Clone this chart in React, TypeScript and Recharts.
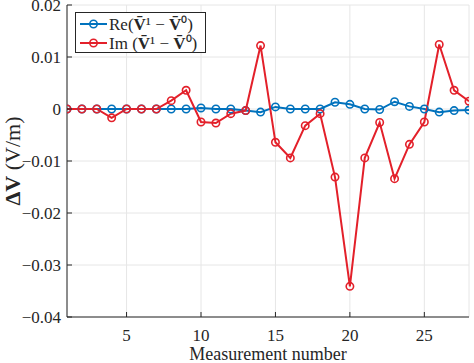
import React from 'react';
import { LineChart, Line, XAxis, YAxis, CartesianGrid } from 'recharts';

const measurements = [1, 2, 3, 4, 5, 6, 7, 8, 9, 10, 11, 12, 13, 14, 15, 16, 17, 18, 19, 20, 21, 22, 23, 24, 25, 26, 27, 28];
const reValues = [0, 0, 0, 0, 0, 0, 0, 0, 0, 0.0002, 0, 0, -0.0003, -0.0006, 0.0004, 0, 0, 0, 0.0013, 0.0009, 0, -0.0001, 0.0014, 0.0005, 0, -0.0006, -0.0003, -0.0002];
const imValues = [0, 0, 0, -0.0017, 0, 0, 0, 0.0016, 0.0036, -0.0025, -0.0027, -0.0009, -0.0003, 0.0122, -0.0064, -0.0094, -0.0032, -0.0009, -0.0131, -0.0341, -0.0094, -0.0026, -0.0134, -0.0068, -0.0025, 0.0124, 0.0036, 0.0015];
const xTicks = [5, 10, 15, 20, 25];
const yTicks = [-0.04, -0.03, -0.02, -0.01, 0, 0.01, 0.02];
const seriesPrefixes = ['Re', 'Im '];
const seriesColors = ['#0072BD', '#E3202A'];

const data = measurements.map((m, i) => ({ m, re: reValues[i], im: imValues[i] }));

const AXIS = '#262626';
const FONT = '"Liberation Serif", "Times New Roman", serif';

const fmt = (v: number) => (v === 0 ? '0' : v.toFixed(2).replace('-', '\u2212'));

const XTickBottom = (props: any) => {
  const { x, y, payload } = props;
  return (
    <g>
      <line x1={x} x2={x} y1={y} y2={y - 5} stroke={AXIS} strokeWidth={1} />
      <text x={x} y={y + 24} textAnchor="middle" fontSize={17} fontFamily={FONT} fill={AXIS}>
        {payload.value}
      </text>
    </g>
  );
};
const XTickTop = (props: any) => {
  const { x, y } = props;
  return <line x1={x} x2={x} y1={y} y2={y + 5} stroke={AXIS} strokeWidth={1} />;
};
const YTickLeft = (props: any) => {
  const { x, y, payload } = props;
  return (
    <g>
      <line x1={x} x2={x + 5} y1={y} y2={y} stroke={AXIS} strokeWidth={1} />
      <text x={x - 6} y={y + 6} textAnchor="end" fontSize={17} fontFamily={FONT} fill={AXIS}>
        {fmt(payload.value)}
      </text>
    </g>
  );
};
const YTickRight = (props: any) => {
  const { x, y } = props;
  return <line x1={x} x2={x - 5} y1={y} y2={y} stroke={AXIS} strokeWidth={1} />;
};

const YLabel = (props: any) => {
  const vb = props.viewBox || { x: 0, y: 5, width: 67, height: 312 };
  const cx = 12;
  const cy = vb.y + vb.height / 2;
  return (
    <text
      x={cx}
      y={cy}
      transform={`rotate(-90 ${cx} ${cy})`}
      textAnchor="middle"
      dominantBaseline="central"
      fontSize={22}
      fontFamily={FONT}
      fill={AXIS}
    >
      <tspan fontWeight="bold">{'\u0394V'}</tspan>
      <tspan>{' (V/m)'}</tspan>
    </text>
  );
};

const XLabel = (props: any) => {
  const vb = props.viewBox || { x: 67, y: 317, width: 402, height: 46 };
  return (
    <text x={vb.x + vb.width / 2} y={vb.y + 43} textAnchor="middle" fontSize={18} fontFamily={FONT} fill={AXIS}>
      Measurement number
    </text>
  );
};

const MathName = ({ prefix }: { prefix: string }) => (
  <span>
    {prefix}(<b>V\u0304</b>¹ − <b>V\u0304</b>⁰)
  </span>
);

const LegendBox = () => (
  <div
    style={{
      position: 'absolute',
      left: 75,
      top: 12,
      width: 131,
      height: 41,
      boxSizing: 'border-box',
      border: '1px solid #262626',
      background: '#fff',
      fontFamily: FONT,
      fontSize: 17,
      color: AXIS,
      paddingTop: 1,
    }}
  >
    {seriesPrefixes.map((p, i) => (
      <div key={i} style={{ display: 'flex', alignItems: 'center', height: 19, whiteSpace: 'nowrap' }}>
        <svg width={32} height={19} style={{ flex: 'none' }}>
          <line x1={4} x2={31} y1={10} y2={10} stroke={seriesColors[i]} strokeWidth={2} />
          <circle cx={17.5} cy={10} r={3.7} fill="none" stroke={seriesColors[i]} strokeWidth={1.6} />
        </svg>
        <span style={{ marginLeft: 1 }}>
          {p}(<b>{'V\u0304'}</b>{'\u00b9 \u2212 '}<b>{'V\u0304'}</b>{'\u2070)'}
        </span>
      </div>
    ))}
  </div>
);

export default function App() {
  return (
    <div style={{ position: 'absolute', left: 0, top: 0, width: 474, height: 363, background: '#fff' }}>
      <LineChart width={474} height={363} data={data} margin={{ top: 5, right: 5, bottom: 0, left: 0 }}>
        <CartesianGrid stroke="#e6e6e6" strokeWidth={1} />
        <XAxis
          dataKey="m"
          type="number"
          domain={[1, 28]}
          ticks={xTicks}
          height={46}
          tickSize={0}
          tickMargin={0}
          tickLine={false}
          axisLine={{ stroke: AXIS }}
          tick={<XTickBottom />}
          interval={0}
          allowDataOverflow
          label={<XLabel />}
        />
        <XAxis
          xAxisId="top"
          orientation="top"
          dataKey="m"
          type="number"
          domain={[1, 28]}
          ticks={xTicks}
          height={0}
          tickSize={0}
          tickMargin={0}
          tickLine={false}
          axisLine={{ stroke: AXIS }}
          tick={<XTickTop />}
          interval={0}
        />
        <YAxis
          type="number"
          domain={[-0.04, 0.02]}
          ticks={yTicks}
          width={67}
          tickSize={0}
          tickMargin={0}
          tickLine={false}
          axisLine={{ stroke: AXIS }}
          tick={<YTickLeft />}
          interval={0}
          allowDataOverflow
          label={<YLabel />}
        />
        <YAxis
          yAxisId="right"
          orientation="right"
          type="number"
          domain={[-0.04, 0.02]}
          ticks={yTicks}
          width={0}
          tickSize={0}
          tickMargin={0}
          tickLine={false}
          axisLine={{ stroke: AXIS }}
          tick={<YTickRight />}
          interval={0}
        />
        <Line
          dataKey="re"
          stroke={seriesColors[0]}
          strokeWidth={2}
          dot={{ r: 3.7, fill: 'none', stroke: seriesColors[0], strokeWidth: 1.6 }}
          activeDot={false}
          isAnimationActive={false}
          type="linear"
        />
        <Line
          dataKey="im"
          stroke={seriesColors[1]}
          strokeWidth={2}
          dot={{ r: 3.7, fill: 'none', stroke: seriesColors[1], strokeWidth: 1.6 }}
          activeDot={false}
          isAnimationActive={false}
          type="linear"
        />
      </LineChart>
      <LegendBox />
    </div>
  );
}
